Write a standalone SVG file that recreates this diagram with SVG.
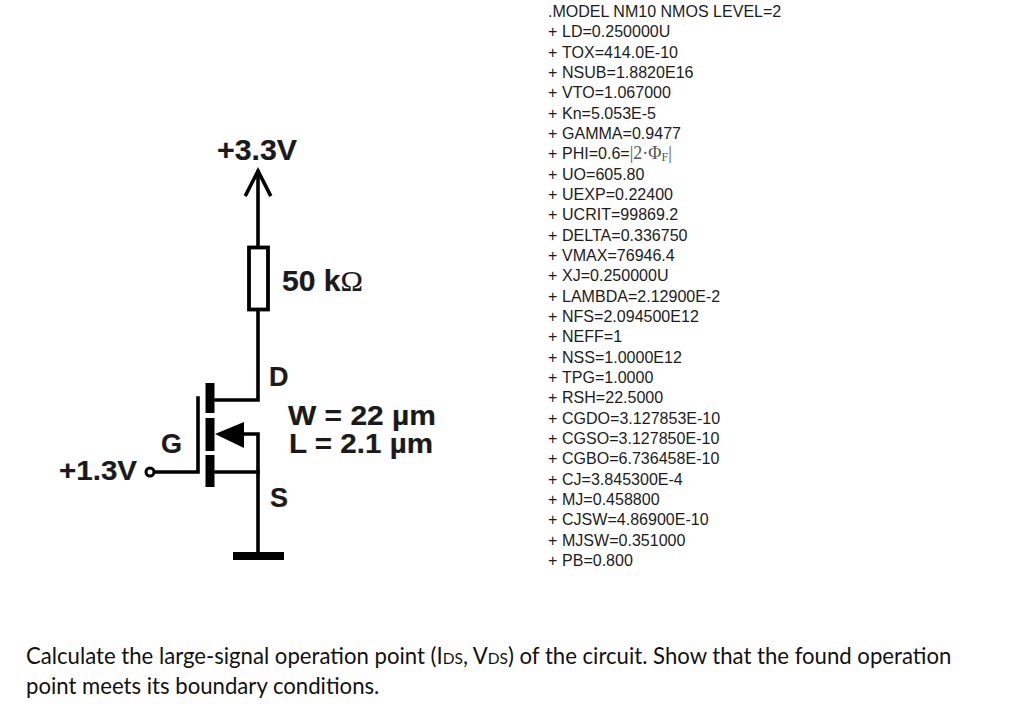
<svg xmlns="http://www.w3.org/2000/svg" width="1024" height="723" viewBox="0 0 1024 723">
<style>
.w{fill:none;stroke:#000;stroke-width:3.6;stroke-linecap:square}
.f{fill:#000}
.l{font-family:"Liberation Sans",Arial,sans-serif;font-size:27px;font-weight:bold;fill:#1a1a1a;stroke:#1a1a1a;stroke-width:.2}
.m{font-family:"Liberation Sans",Arial,sans-serif;font-size:16.05px;fill:#1c1c1c}
.s{font-family:"Liberation Serif",serif;font-size:18px;fill:#555}
.q{font-family:Lato,"Open Sans",sans-serif;font-size:22.15px;fill:#111}
.c{font-size:15.5px}
</style>
<rect width="1024" height="723" fill="#fff"/>
<g id="connectors">
<path class="w" d="M258 172V246"/>
<path class="w" d="M246 194.500L258 171L270 194.500" stroke-linejoin="miter"/>
<path class="w" d="M258 311V400H216"/>
<path class="w" d="M245 434H258V552"/>
<path class="w" d="M216 472H258"/>
<path class="w" d="M155 472H198V398"/>
</g>
<g id="resistor"><rect x="249" y="247.500" width="19" height="62" fill="#fff" stroke="#000" stroke-width="3.8"/></g>
<g id="mosfet">
<rect class="f" x="205.500" y="383" width="9" height="30"/>
<rect class="f" x="205.500" y="418" width="9" height="33"/>
<rect class="f" x="205.500" y="455" width="9" height="32"/>
<path class="f" d="M215 434L244 422V448Z"/>
</g>
<g id="gate-terminal"><circle cx="150" cy="472" r="4" fill="#fff" stroke="#000" stroke-width="3"/></g>
<g id="ground"><rect class="f" x="233" y="552" width="51" height="8"/></g>
<g id="labels">
<text class="l" x="217" y="160" style="font-size:29px" textLength="80" lengthAdjust="spacingAndGlyphs">+3.3V</text>
<text class="l" x="282" y="290.500" style="font-size:29px" textLength="81" lengthAdjust="spacingAndGlyphs">50 k<tspan font-family="Liberation Serif" font-weight="normal">Ω</tspan></text>
<text class="l" x="269" y="386">D</text>
<text class="l" x="161" y="453">G</text>
<text class="l" x="59" y="480" style="font-size:28px" textLength="78" lengthAdjust="spacingAndGlyphs">+1.3V</text>
<text class="l" x="270" y="506.500">S</text>
<text class="l" x="288" y="425" textLength="148" lengthAdjust="spacingAndGlyphs">W = 22 µm</text>
<text class="l" x="289" y="453" textLength="144" lengthAdjust="spacingAndGlyphs">L = 2.1 µm</text>
</g>
<g id="model">
<text class="m" x="548" y="17">.MODEL NM10 NMOS LEVEL=2</text>
<text class="m" x="548" y="37"><tspan>+</tspan><tspan x="562">LD=0.250000U</tspan></text>
<text class="m" x="548" y="57.500"><tspan>+</tspan><tspan x="562">TOX=414.0E-10</tspan></text>
<text class="m" x="548" y="78"><tspan>+</tspan><tspan x="562">NSUB=1.8820E16</tspan></text>
<text class="m" x="548" y="98"><tspan>+</tspan><tspan x="562">VTO=1.067000</tspan></text>
<text class="m" x="548" y="118.500"><tspan>+</tspan><tspan x="562">Kn=5.053E-5</tspan></text>
<text class="m" x="548" y="139"><tspan>+</tspan><tspan x="562">GAMMA=0.9477</tspan></text>
<text class="m" x="548" y="159"><tspan>+</tspan><tspan x="562">PHI=0.6=</tspan><tspan class="s">|2·Φ</tspan><tspan class="s" style="font-size:12px" dy="2">F</tspan><tspan class="s" dy="-2">|</tspan></text>
<text class="m" x="548" y="179.500"><tspan>+</tspan><tspan x="562">UO=605.80</tspan></text>
<text class="m" x="548" y="200"><tspan>+</tspan><tspan x="562">UEXP=0.22400</tspan></text>
<text class="m" x="548" y="220"><tspan>+</tspan><tspan x="562">UCRIT=99869.2</tspan></text>
<text class="m" x="548" y="240.500"><tspan>+</tspan><tspan x="562">DELTA=0.336750</tspan></text>
<text class="m" x="548" y="261"><tspan>+</tspan><tspan x="562">VMAX=76946.4</tspan></text>
<text class="m" x="548" y="281"><tspan>+</tspan><tspan x="562">XJ=0.250000U</tspan></text>
<text class="m" x="548" y="301.500"><tspan>+</tspan><tspan x="562">LAMBDA=2.12900E-2</tspan></text>
<text class="m" x="548" y="322"><tspan>+</tspan><tspan x="562">NFS=2.094500E12</tspan></text>
<text class="m" x="548" y="342"><tspan>+</tspan><tspan x="562">NEFF=1</tspan></text>
<text class="m" x="548" y="362.500"><tspan>+</tspan><tspan x="562">NSS=1.0000E12</tspan></text>
<text class="m" x="548" y="383"><tspan>+</tspan><tspan x="562">TPG=1.0000</tspan></text>
<text class="m" x="548" y="403"><tspan>+</tspan><tspan x="562">RSH=22.5000</tspan></text>
<text class="m" x="548" y="423.500"><tspan>+</tspan><tspan x="562">CGDO=3.127853E-10</tspan></text>
<text class="m" x="548" y="444"><tspan>+</tspan><tspan x="562">CGSO=3.127850E-10</tspan></text>
<text class="m" x="548" y="464"><tspan>+</tspan><tspan x="562">CGBO=6.736458E-10</tspan></text>
<text class="m" x="548" y="484.500"><tspan>+</tspan><tspan x="562">CJ=3.845300E-4</tspan></text>
<text class="m" x="548" y="505"><tspan>+</tspan><tspan x="562">MJ=0.458800</tspan></text>
<text class="m" x="548" y="525"><tspan>+</tspan><tspan x="562">CJSW=4.86900E-10</tspan></text>
<text class="m" x="548" y="545.500"><tspan>+</tspan><tspan x="562">MJSW=0.351000</tspan></text>
<text class="m" x="548" y="566"><tspan>+</tspan><tspan x="562">PB=0.800</tspan></text>
</g>
<g id="question">
<text class="q" x="26" y="664">Calculate the large-signal operation point (I<tspan class="c">DS</tspan>, V<tspan class="c">DS</tspan>) of the circuit. Show that the found operation</text>
<text class="q" x="26" y="694">point meets its boundary conditions.</text>
</g>
</svg>
